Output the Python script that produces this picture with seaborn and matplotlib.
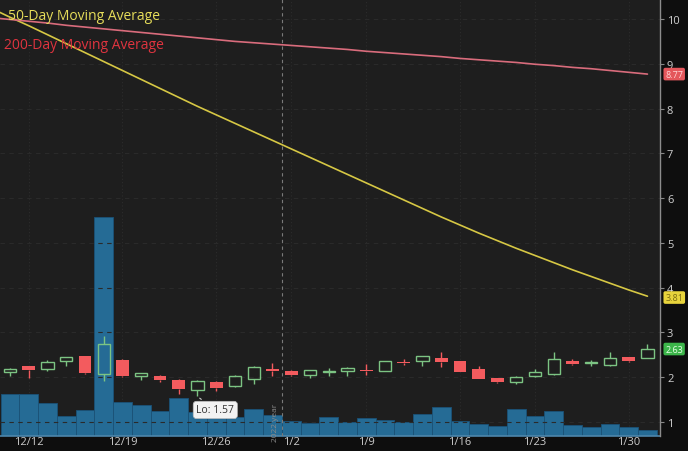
import numpy as np
import pandas as pd
import matplotlib
matplotlib.use("Agg")
import matplotlib.pyplot as plt
import seaborn as sns

# Trading days shown (12/9/2022 - 1/31/2023)
days = ["12/9", "12/12", "12/13", "12/14", "12/15", "12/16",
        "12/19", "12/20", "12/21", "12/22", "12/23",
        "12/27", "12/28", "12/29", "12/30",
        "1/3", "1/4", "1/5", "1/6",
        "1/9", "1/10", "1/11", "1/12", "1/13",
        "1/17", "1/18", "1/19", "1/20",
        "1/23", "1/24", "1/25", "1/26", "1/27",
        "1/30", "1/31"]

opens = [2.12, 2.25, 2.18, 2.36, 2.47, 2.07, 2.38, 2.03, 2.03, 1.94, 1.72,
         1.89, 1.80, 1.96, 2.18, 2.14, 2.05, 2.12, 2.14, 2.16, 2.14, 2.34,
         2.36, 2.43, 2.36, 2.18, 1.98, 1.89, 2.03, 2.07, 2.36, 2.32, 2.27,
         2.45, 2.43]
highs = [2.21, 2.26, 2.38, 2.46, 2.48, 2.92, 2.40, 2.10, 2.04, 1.95, 1.93,
         1.91, 2.04, 2.24, 2.32, 2.16, 2.17, 2.21, 2.22, 2.30, 2.37, 2.41,
         2.48, 2.56, 2.37, 2.25, 1.99, 2.02, 2.18, 2.56, 2.41, 2.38, 2.56,
         2.46, 2.74]
lows = [2.03, 1.98, 2.14, 2.25, 2.07, 1.92, 2.01, 1.94, 1.89, 1.63, 1.57,
        1.70, 1.78, 1.85, 2.03, 2.03, 1.98, 2.03, 2.03, 2.05, 2.13, 2.27,
        2.25, 2.23, 2.11, 1.95, 1.88, 1.85, 2.01, 2.06, 2.27, 2.25, 2.26,
        2.35, 2.42]
closes = [2.18, 2.16, 2.34, 2.45, 2.09, 2.74, 2.03, 2.09, 1.94, 1.74, 1.92,
          1.76, 2.03, 2.23, 2.14, 2.05, 2.16, 2.14, 2.21, 2.14, 2.36, 2.32,
          2.47, 2.34, 2.12, 1.96, 1.89, 2.01, 2.12, 2.41, 2.30, 2.34, 2.43,
          2.36, 2.63]
# volume in millions of shares (approx.)
volume = [4.2, 4.2, 3.3, 2.0, 2.6, 21.9, 3.4, 3.1, 2.5, 3.8, 2.4,
          1.9, 1.9, 2.7, 2.1, 1.5, 1.3, 1.9, 1.4, 1.8, 1.6, 1.4,
          2.2, 2.9, 1.5, 1.2, 1.0, 2.7, 2.0, 2.5, 1.1, 0.9, 1.2,
          0.9, 0.6]

# moving averages, first value is 12/8 (just off the left edge)
ma50 = [10.24, 10.04, 9.85, 9.65, 9.45, 9.25, 9.05, 8.85, 8.65, 8.45, 8.25,
        8.05, 7.86, 7.67, 7.48, 7.29, 7.10, 6.91, 6.72, 6.53, 6.34, 6.15,
        5.96, 5.77, 5.58, 5.40, 5.22, 5.05, 4.88, 4.72, 4.56, 4.40, 4.25,
        4.10, 3.95, 3.81]
ma200 = [10.03, 9.99, 9.95, 9.91, 9.86, 9.82, 9.78, 9.74, 9.70, 9.66, 9.62,
         9.58, 9.54, 9.50, 9.47, 9.44, 9.41, 9.38, 9.35, 9.32, 9.28, 9.25,
         9.22, 9.19, 9.16, 9.12, 9.09, 9.06, 9.03, 8.99, 8.96, 8.92, 8.89,
         8.85, 8.81, 8.77]

tick_days = ["12/12", "12/19", "12/27", "1/3", "1/9", "1/17", "1/23", "1/30"]
tick_labels = ["12/12", "12/19", "12/26", "1/2", "1/9", "1/16", "1/23", "1/30"]

df = pd.DataFrame({"day": days, "open": opens, "high": highs,
                   "low": lows, "close": closes, "volume": volume})
df["pos"] = np.arange(len(df))
df["up"] = df["close"] >= df["open"]
df["body_lo"] = df[["open", "close"]].min(axis=1)
df["body_hi"] = df[["open", "close"]].max(axis=1)

ma = pd.DataFrame({"pos": np.arange(-1, len(df)), "ma50": ma50, "ma200": ma200})

# colours
bg = "#1e1e1e"
green = "#7cc483"
red = "#f35b5e"
vol_col = "#256b95"

sns.set_theme(style="dark")
plt.rcParams['font.family'] = ['Open Sans', 'DejaVu Sans']

fig = plt.figure(figsize=(6.88, 4.52), dpi=100, facecolor="#0e0e0e")
ax_vol = fig.add_axes([0, 0.0332, 0.9593, 0.9668])
ax_vol.set_facecolor(bg)
ax = ax_vol.twinx()

# volume bars
ax_vol.bar(df["pos"], df["volume"], width=1.0, color=vol_col,
           edgecolor="#1b5277", linewidth=0.6)
ax_vol.set_ylim(0, 43.7)
ax_vol.set_yticks([])
ax_vol.set_xlim(-0.533, 34.67)
ax_vol.set_xticks([days.index(d) for d in tick_days], tick_labels)
ax_vol.tick_params(axis="x", colors="#cccccc", labelsize=8, length=0, pad=0)
ax_vol.grid(axis="x", color="#2c2c2c", ls=(0, (1, 2)), lw=0.8)
ax_vol.grid(axis="y", visible=False)
for s in ["top", "left", "right"]:
    ax_vol.spines[s].set_visible(False)
ax_vol.spines["bottom"].set_color("#4d86ab")
ax_vol.spines["bottom"].set_linewidth(1.2)

# candles
cols = np.where(df["up"], green, red)
ax.vlines(df["pos"], df["body_hi"], df["high"], color=cols, lw=1)
ax.vlines(df["pos"], df["low"], df["body_lo"], color=cols, lw=1)
upd = df[df["up"]]
dnd = df[~df["up"]]
ax.bar(upd["pos"], (upd["body_hi"] - upd["body_lo"]).clip(lower=0.015),
       bottom=upd["body_lo"], width=0.66, facecolor="none",
       edgecolor=green, linewidth=1)
ax.bar(dnd["pos"], (dnd["body_hi"] - dnd["body_lo"]).clip(lower=0.03),
       bottom=dnd["body_lo"], width=0.68, color=red, linewidth=0)

# moving averages
sns.lineplot(data=ma, x="pos", y="ma50", ax=ax, color="#d6c744", lw=1.2)
sns.lineplot(data=ma, x="pos", y="ma200", ax=ax, color="#d96c7c", lw=1.2)

ax.set_ylim(0.688, 10.447)
ax.set_yticks(range(1, 11))
ax.set_ylabel("")
ax.set_xlabel("")
ax_vol.set_xlabel("")
ax.tick_params(axis="y", colors="#cfcfcf", labelsize=8, length=3,
               width=0.8, pad=2, color="#888888")
ax.grid(axis="y", color="#2a2a2a", ls=(0, (4, 4)), lw=0.8)
ax.grid(axis="x", visible=False)
for s in ["top", "left", "bottom"]:
    ax.spines[s].set_visible(False)
ax.spines["right"].set_color("#8c8c8c")
ax.spines["right"].set_linewidth(1)

# year separator
ax.axvline(14.5, color="#7a7a7a", ls=(0, (3, 3)), lw=0.8)
ax.text(14.18, 1.0, "2022 year", rotation=90, fontsize=6, color="#8a8a8a",
        ha="center", va="center")

# low marker
ax.annotate("Lo: 1.57", xy=(10, 1.57), xytext=(10.95, 1.27),
            fontsize=7.5, color="#333333", ha="center", va="center",
            bbox=dict(boxstyle="round,pad=0.3", fc="#f2f2f2", ec="#bbbbbb", lw=0.5),
            arrowprops=dict(arrowstyle="-", color="#cccccc", lw=0.8))

# legend text
ax.text(0.012, 0.962, "50-Day Moving Average", transform=ax.transAxes,
        color="#e6dd5a", fontsize=10, va="center", ha="left")
ax.text(0.006, 0.897, "200-Day Moving Average", transform=ax.transAxes,
        color="#e0343f", fontsize=10, va="center", ha="left")

# last value boxes on the price axis
yt = ax.get_yaxis_transform()
ax.text(1.008, ma200[-1], f"{ma200[-1]:.2f}", transform=yt, fontsize=6.5,
        color="#ffd6d6", va="center", ha="left",
        bbox=dict(boxstyle="round,pad=0.2", fc="#e4575c", ec="none"))
ax.text(1.008, ma50[-1] - 0.03, f"{ma50[-1]:.2f}", transform=yt, fontsize=6.5,
        color="#7a6a10", va="center", ha="left",
        bbox=dict(boxstyle="round,pad=0.2", fc="#e8d43c", ec="none"))
ax.text(1.008, closes[-1], f"{closes[-1]:.2f}", transform=yt, fontsize=6.5,
        color="#e8ffe8", va="center", ha="left",
        bbox=dict(boxstyle="round,pad=0.2", fc="#3cb54a", ec="none"))

fig.savefig("out.png", dpi=100, facecolor=fig.get_facecolor())
